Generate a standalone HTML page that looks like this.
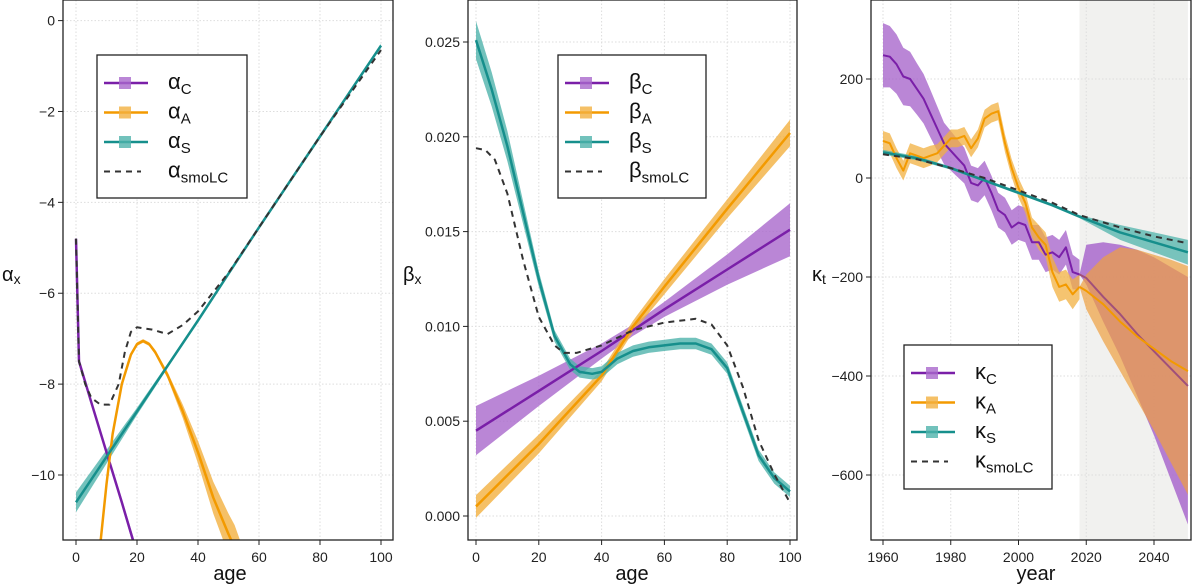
<!DOCTYPE html>
<html><head><meta charset="utf-8"><style>
html,body{margin:0;padding:0;background:#fff}
svg{display:block;font-family:"Liberation Sans",sans-serif}
</style></head><body>
<svg id="chart" width="1200" height="585" viewBox="0 0 1200 585" xmlns="http://www.w3.org/2000/svg">
<defs>
<clipPath id="c1"><rect x="63" y="0" width="330" height="540"/></clipPath>
<clipPath id="c2"><rect x="468" y="0" width="330" height="540"/></clipPath>
<clipPath id="c3"><rect x="871" y="0" width="320" height="540"/></clipPath>
</defs>
</svg>
<script>
// ===== Panel 1 data (alpha_x) =====
const ageC1=[0,1,5,10,15,19,22];
const alphaC=[-4.8,-7.5,-8.4,-9.5,-10.6,-11.5,-12.2];
const alphaCw=[0.05,0.05,0.05,0.06,0.08,0.1,0.1];
const ageA1=[7,8,10,12,15,18,20,22,24,26,30,35,40,45,50,52,56];
const alphaA=[-12.2,-11.5,-10.2,-9.1,-8.0,-7.35,-7.12,-7.05,-7.12,-7.3,-7.8,-8.6,-9.5,-10.5,-11.3,-11.6,-12.4];
const alphaAw=[0.05,0.05,0.05,0.05,0.04,0.04,0.04,0.04,0.04,0.05,0.07,0.15,0.25,0.35,0.45,0.5,0.55];
const ageS1=[0,10,20,30,40,50,60,70,80,90,100];
const alphaS=[-10.6,-9.6,-8.6,-7.6,-6.6,-5.57,-4.55,-3.55,-2.55,-1.55,-0.55];
const alphaSw=[0.22,0.15,0.08,0.05,0.04,0.03,0.03,0.03,0.03,0.03,0.04];
const ageSmo1=[0,1,3,5,8,11,14,16,18,20,25,30,35,40,50,60,70,80,90,100];
const alphaSmo=[-4.8,-7.5,-8.0,-8.3,-8.45,-8.45,-8.0,-7.3,-6.85,-6.75,-6.8,-6.9,-6.7,-6.4,-5.55,-4.55,-3.55,-2.55,-1.6,-0.65];
const yTicks1=[0,-2,-4,-6,-8,-10];
const xTicks12=[0,20,40,60,80,100];

// ===== Panel 2 data (beta_x) =====
const ageL2=[0,20,40,50,60,80,100];
const betaC=[0.0045,0.0066,0.0087,0.0098,0.0109,0.0130,0.0151];
const betaCw=[0.0013,0.0008,0.0004,0.0003,0.0004,0.0008,0.0014];
const betaA=[0.0005,0.0038,0.0074,0.0100,0.0121,0.0162,0.0202];
const betaAw=[0.0006,0.0005,0.0003,0.0003,0.0004,0.0005,0.0007];
const ageS2=[0,5,10,15,20,25,30,33,37,40,45,50,55,60,65,70,75,80,85,90,95,100];
const betaS=[0.0251,0.0225,0.0195,0.0160,0.0125,0.0095,0.0080,0.0076,0.0075,0.0076,0.0083,0.0087,0.0089,0.0090,0.0091,0.0091,0.0088,0.0078,0.0055,0.0032,0.0020,0.0013];
const betaSw=[0.0010,0.0009,0.0008,0.0006,0.0004,0.0003,0.0003,0.0003,0.0003,0.0003,0.0003,0.0003,0.0003,0.0003,0.0003,0.0003,0.0003,0.0003,0.0003,0.0003,0.0003,0.0003];
const ageSmo2=[0,3,6,10,15,20,25,28,32,40,50,60,70,75,80,85,90,95,100];
const betaSmo=[0.0194,0.0193,0.0188,0.0170,0.0135,0.0105,0.0090,0.0086,0.0086,0.0090,0.0098,0.0102,0.0104,0.0101,0.0090,0.0068,0.0040,0.0022,0.0007];
const yTicks2=[0,0.005,0.010,0.015,0.020,0.025];
const yTickLabels2=["0.000","0.005","0.010","0.015","0.020","0.025"];

// ===== Panel 3 data (kappa_t) =====
const yearsObs=[1960,1962,1964,1966,1968,1970,1972,1974,1976,1978,1980,1982,1984,1986,1988,1990,1992,1994,1996,1998,2000,2002,2004,2006,2008,2010,2012,2014,2016,2018];
const kappaC=[248,245,230,205,200,180,160,130,100,70,55,40,25,-10,-15,0,-30,-65,-75,-100,-90,-95,-130,-130,-155,-150,-160,-140,-190,-195];
const kappaCw=[65,62,60,58,55,52,50,48,45,42,40,38,36,35,35,35,35,35,35,35,35,35,35,35,35,35,35,35,35,30];
const kappaA=[75,70,40,15,50,45,40,45,50,65,80,80,85,60,80,120,130,135,70,20,-20,-50,-100,-120,-135,-190,-220,-215,-235,-220];
const kappaAw=[20,20,20,20,20,20,20,20,18,18,18,18,18,18,18,18,18,18,18,18,20,20,20,25,25,30,30,30,30,25];
const yearsFc=[2018,2020,2025,2030,2035,2040,2045,2050];
const kappaCfc=[-195,-202,-240,-275,-315,-350,-385,-420];
const kappaCfcLo=[-195,-215,-290,-360,-440,-520,-610,-700];
const kappaCfcHi=[-195,-135,-130,-135,-145,-160,-180,-200];
const kappaAfc=[-220,-228,-255,-290,-320,-345,-370,-390];
const kappaAfcLo=[-220,-265,-330,-390,-450,-510,-575,-640];
const kappaAfcHi=[-220,-195,-160,-140,-145,-155,-165,-178];
const yearsS=[1960,1970,1980,1990,2000,2010,2018,2030,2040,2050];
const kappaS=[52,40,20,-5,-30,-55,-78,-110,-130,-150];
const kappaSw=[5,4,3,3,3,3,3,15,20,25];
const kappaSmo=[48,38,20,0,-25,-50,-75,-100,-118,-132];
const yTicks3=[200,0,-200,-400,-600];
const xTicks3=[1960,1980,2000,2020,2040];

const svg=document.getElementById('chart');
const NS='http://www.w3.org/2000/svg';
const PUR='#7a1fa8',PURB='#a968cc',ORA='#f39a00',ORAB='#f2b040',TEA='#168f8c',TEAB='#4fb3ab';
function mk(tag,attrs,parent){const e=document.createElementNS(NS,tag);for(const k in attrs)e.setAttribute(k,attrs[k]);(parent||svg).appendChild(e);return e;}
function lin(d0,d1,r0,r1){return v=>r0+(v-d0)*(r1-r0)/(d1-d0);}
function pathLine(xs,ys,sx,sy){return xs.map((x,i)=>(i?'L':'M')+sx(x).toFixed(1)+','+sy(ys[i]).toFixed(1)).join('');}
function pathBand(xs,lo,hi,sx,sy){let d=xs.map((x,i)=>(i?'L':'M')+sx(x).toFixed(1)+','+sy(hi[i]).toFixed(1)).join('');for(let i=xs.length-1;i>=0;i--)d+='L'+sx(xs[i]).toFixed(1)+','+sy(lo[i]).toFixed(1);return d+'Z';}

function frame(p,name){
  const g=mk('g',{});
  
  
  return g;
}
function axes(g,p,xt,xl,yt,yl,name){
  xt.forEach((v,i)=>{const x=p.sx(v);
    const gl=mk('line',{x1:x,x2:x,y1:p.t,y2:p.b,stroke:'#ddd','stroke-dasharray':'1.5,2','stroke-width':1},g);
    
    mk('line',{x1:x,x2:x,y1:p.b,y2:p.b+5,stroke:'#222'},g);
    const t=mk('text',{x:x,y:p.b+22,'text-anchor':'middle','font-size':14,fill:'#222'},g);t.textContent=xl[i];
    });
  yt.forEach((v,i)=>{const y=p.sy(v);
    const gl=mk('line',{x1:p.l,x2:p.r,y1:y,y2:y,stroke:'#ddd','stroke-dasharray':'1.5,2','stroke-width':1},g);
    
    mk('line',{x1:p.l-5,x2:p.l,y1:y,y2:y,stroke:'#222'},g);
    const t=mk('text',{x:p.l-8,y:y+5,'text-anchor':'end','font-size':14,fill:'#222'},g);t.textContent=yl[i];
    });
}
function box(g,p,name){const r=mk('rect',{x:p.l,y:p.t,width:p.r-p.l,height:p.b-p.t,fill:'none',stroke:'#222','stroke-width':1.3},g);
  }
function band(g,xs,lo,hi,p,col,op,name){const e=mk('path',{d:pathBand(xs,lo,hi,p.sx,p.sy),fill:col,'fill-opacity':op,stroke:'none'},g);
  }
function line(g,xs,ys,p,col,w,dash,name){const a={d:pathLine(xs,ys,p.sx,p.sy),fill:'none',stroke:col,'stroke-width':w,'stroke-linejoin':'round'};if(dash)a['stroke-dasharray']=dash;const e=mk('path',a,g);
  }
function lohi(ys,ws){return [ys.map((y,i)=>y-ws[i]),ys.map((y,i)=>y+ws[i])];}
function legend(x,y,w,h,rows,sym,name){
  const g=mk('g',{});
  
  
  mk('rect',{x:x,y:y,width:w,height:h,fill:'#fff',stroke:'#222','stroke-width':1.3},g);
  rows.forEach((r,i)=>{const yy=y+28+i*29.5;
    if(r.dash){mk('line',{x1:x+7,x2:x+44,y1:yy,y2:yy,stroke:'#333','stroke-width':2,'stroke-dasharray':'6,5'},g);}
    else{mk('line',{x1:x+7,x2:x+51,y1:yy,y2:yy,stroke:r.col,'stroke-width':2.5},g);
      mk('rect',{x:x+22,y:yy-6,width:12,height:12,fill:r.band,'fill-opacity':0.8},g);}
    const t=mk('text',{x:x+71,y:yy+6,'font-size':22,fill:'#111'},g);
    
    t.innerHTML=sym+'<tspan font-size="15" dy="5">'+r.sub+'</tspan>';});
}
function title(x,y,html,anchor,name){const t=mk('text',{x:x,y:y,'font-size':20,'text-anchor':anchor,fill:'#111'},svg);t.innerHTML=html;
  }

// Panel 1
const p1={l:63,r:393,t:0,b:540,sx:lin(0,100,76,381),sy:lin(0,-10,20.6,475)};
let g=frame(p1,'alpha');
axes(g,p1,xTicks12,xTicks12.map(String),yTicks1,yTicks1.map(v=>v<0?'\u2212'+(-v):String(v)),'alpha');
let cg=mk('g',{'clip-path':'url(#c1)'},g);
let b=lohi(alphaC,alphaCw);band(cg,ageC1,b[0],b[1],p1,PURB,0.8,'alpha-c-band');
b=lohi(alphaA,alphaAw);band(cg,ageA1,b[0],b[1],p1,ORAB,0.8,'alpha-a-band');
b=lohi(alphaS,alphaSw);band(cg,ageS1,b[0],b[1],p1,TEAB,0.8,'alpha-s-band');
line(cg,ageC1,alphaC,p1,PUR,2.5,null,'alpha-c-line');
line(cg,ageA1,alphaA,p1,ORA,2.5,null,'alpha-a-line');
line(cg,ageS1,alphaS,p1,TEA,2.5,null,'alpha-s-line');
line(cg,ageSmo1,alphaSmo,p1,'#333',2,'6,5','alpha-smolc-line');
box(g,p1,'alpha');
legend(97,55,150,143,[{col:PUR,band:PURB,sub:'C',key:'alpha-c'},{col:ORA,band:ORAB,sub:'A',key:'alpha-a'},{col:TEA,band:TEAB,sub:'S',key:'alpha-s'},{dash:1,sub:'smoLC',key:'alpha-smolc'}],'\u03B1','alpha-legend');
title(2,281,'\u03B1<tspan font-size="14" dy="3">x</tspan>','start','alpha-y-axis-title');
title(230,580,'age','middle','alpha-x-axis-title');

// Panel 2
const p2={l:468,r:797,t:0,b:540,sx:lin(0,100,476,790),sy:lin(0,0.025,516,42)};
g=frame(p2,'beta');
axes(g,p2,xTicks12,xTicks12.map(String),yTicks2,yTickLabels2,'beta');
cg=mk('g',{'clip-path':'url(#c2)'},g);
b=lohi(betaC,betaCw);band(cg,ageL2,b[0],b[1],p2,PURB,0.8,'beta-c-band');
b=lohi(betaA,betaAw);band(cg,ageL2,b[0],b[1],p2,ORAB,0.8,'beta-a-band');
b=lohi(betaS,betaSw);band(cg,ageS2,b[0],b[1],p2,TEAB,0.8,'beta-s-band');
line(cg,ageL2,betaC,p2,PUR,2.5,null,'beta-c-line');
line(cg,ageL2,betaA,p2,ORA,2.5,null,'beta-a-line');
line(cg,ageS2,betaS,p2,TEA,2.5,null,'beta-s-line');
line(cg,ageSmo2,betaSmo,p2,'#333',2,'6,5','beta-smolc-line');
box(g,p2,'beta');
legend(558,55,148,143,[{col:PUR,band:PURB,sub:'C',key:'beta-c'},{col:ORA,band:ORAB,sub:'A',key:'beta-a'},{col:TEA,band:TEAB,sub:'S',key:'beta-s'},{dash:1,sub:'smoLC',key:'beta-smolc'}],'\u03B2','beta-legend');
title(403,281,'\u03B2<tspan font-size="14" dy="3">x</tspan>','start','beta-y-axis-title');
title(632,580,'age','middle','beta-x-axis-title');

// Panel 3
const p3={l:871,r:1191,t:0,b:540,sx:lin(1960,2040,883,1154),sy:lin(0,200,178,79)};
g=frame(p3,'kappa');
const fr=mk('rect',{x:p3.sx(2018),y:0,width:p3.sx(2050)-p3.sx(2018),height:540,fill:'#f1f1ef'},g);

axes(g,p3,xTicks3,xTicks3.map(String),yTicks3,yTicks3.map(v=>v<0?'\u2212'+(-v):String(v)),'kappa');
cg=mk('g',{'clip-path':'url(#c3)'},g);
b=lohi(kappaC,kappaCw);band(cg,yearsObs,b[0],b[1],p3,PURB,0.8,'kappa-c-band');
band(cg,yearsFc,kappaCfcLo,kappaCfcHi,p3,PURB,0.85,'kappa-c-forecast-band');
b=lohi(kappaA,kappaAw);band(cg,yearsObs,b[0],b[1],p3,ORAB,0.75,'kappa-a-band');
band(cg,yearsFc,kappaAfcLo,kappaAfcHi,p3,'#eea040',0.7,'kappa-a-forecast-band');
b=lohi(kappaS,kappaSw);band(cg,yearsS,b[0],b[1],p3,TEAB,0.75,'kappa-s-band');
line(cg,yearsObs,kappaC,p3,PUR,2,null,'kappa-c-line');
line(cg,yearsFc,kappaCfc,p3,'#a0507a',2,null,'kappa-c-forecast-line');
line(cg,yearsObs,kappaA,p3,ORA,2,null,'kappa-a-line');
line(cg,yearsFc,kappaAfc,p3,ORA,2,null,'kappa-a-forecast-line');
line(cg,yearsS,kappaS,p3,TEA,2.5,null,'kappa-s-line');
line(cg,yearsS,kappaSmo,p3,'#333',2,'6,5','kappa-smolc-line');
box(g,p3,'kappa');
legend(904,345,148,144,[{col:PUR,band:PURB,sub:'C',key:'kappa-c'},{col:ORA,band:ORAB,sub:'A',key:'kappa-a'},{col:TEA,band:TEAB,sub:'S',key:'kappa-s'},{dash:1,sub:'smoLC',key:'kappa-smolc'}],'\u03BA','kappa-legend');
title(812,281,'\u03BA<tspan font-size="14" dy="3">t</tspan>','start','kappa-y-axis-title');
title(1036,580,'year','middle','kappa-x-axis-title');
</script>
</body></html>
